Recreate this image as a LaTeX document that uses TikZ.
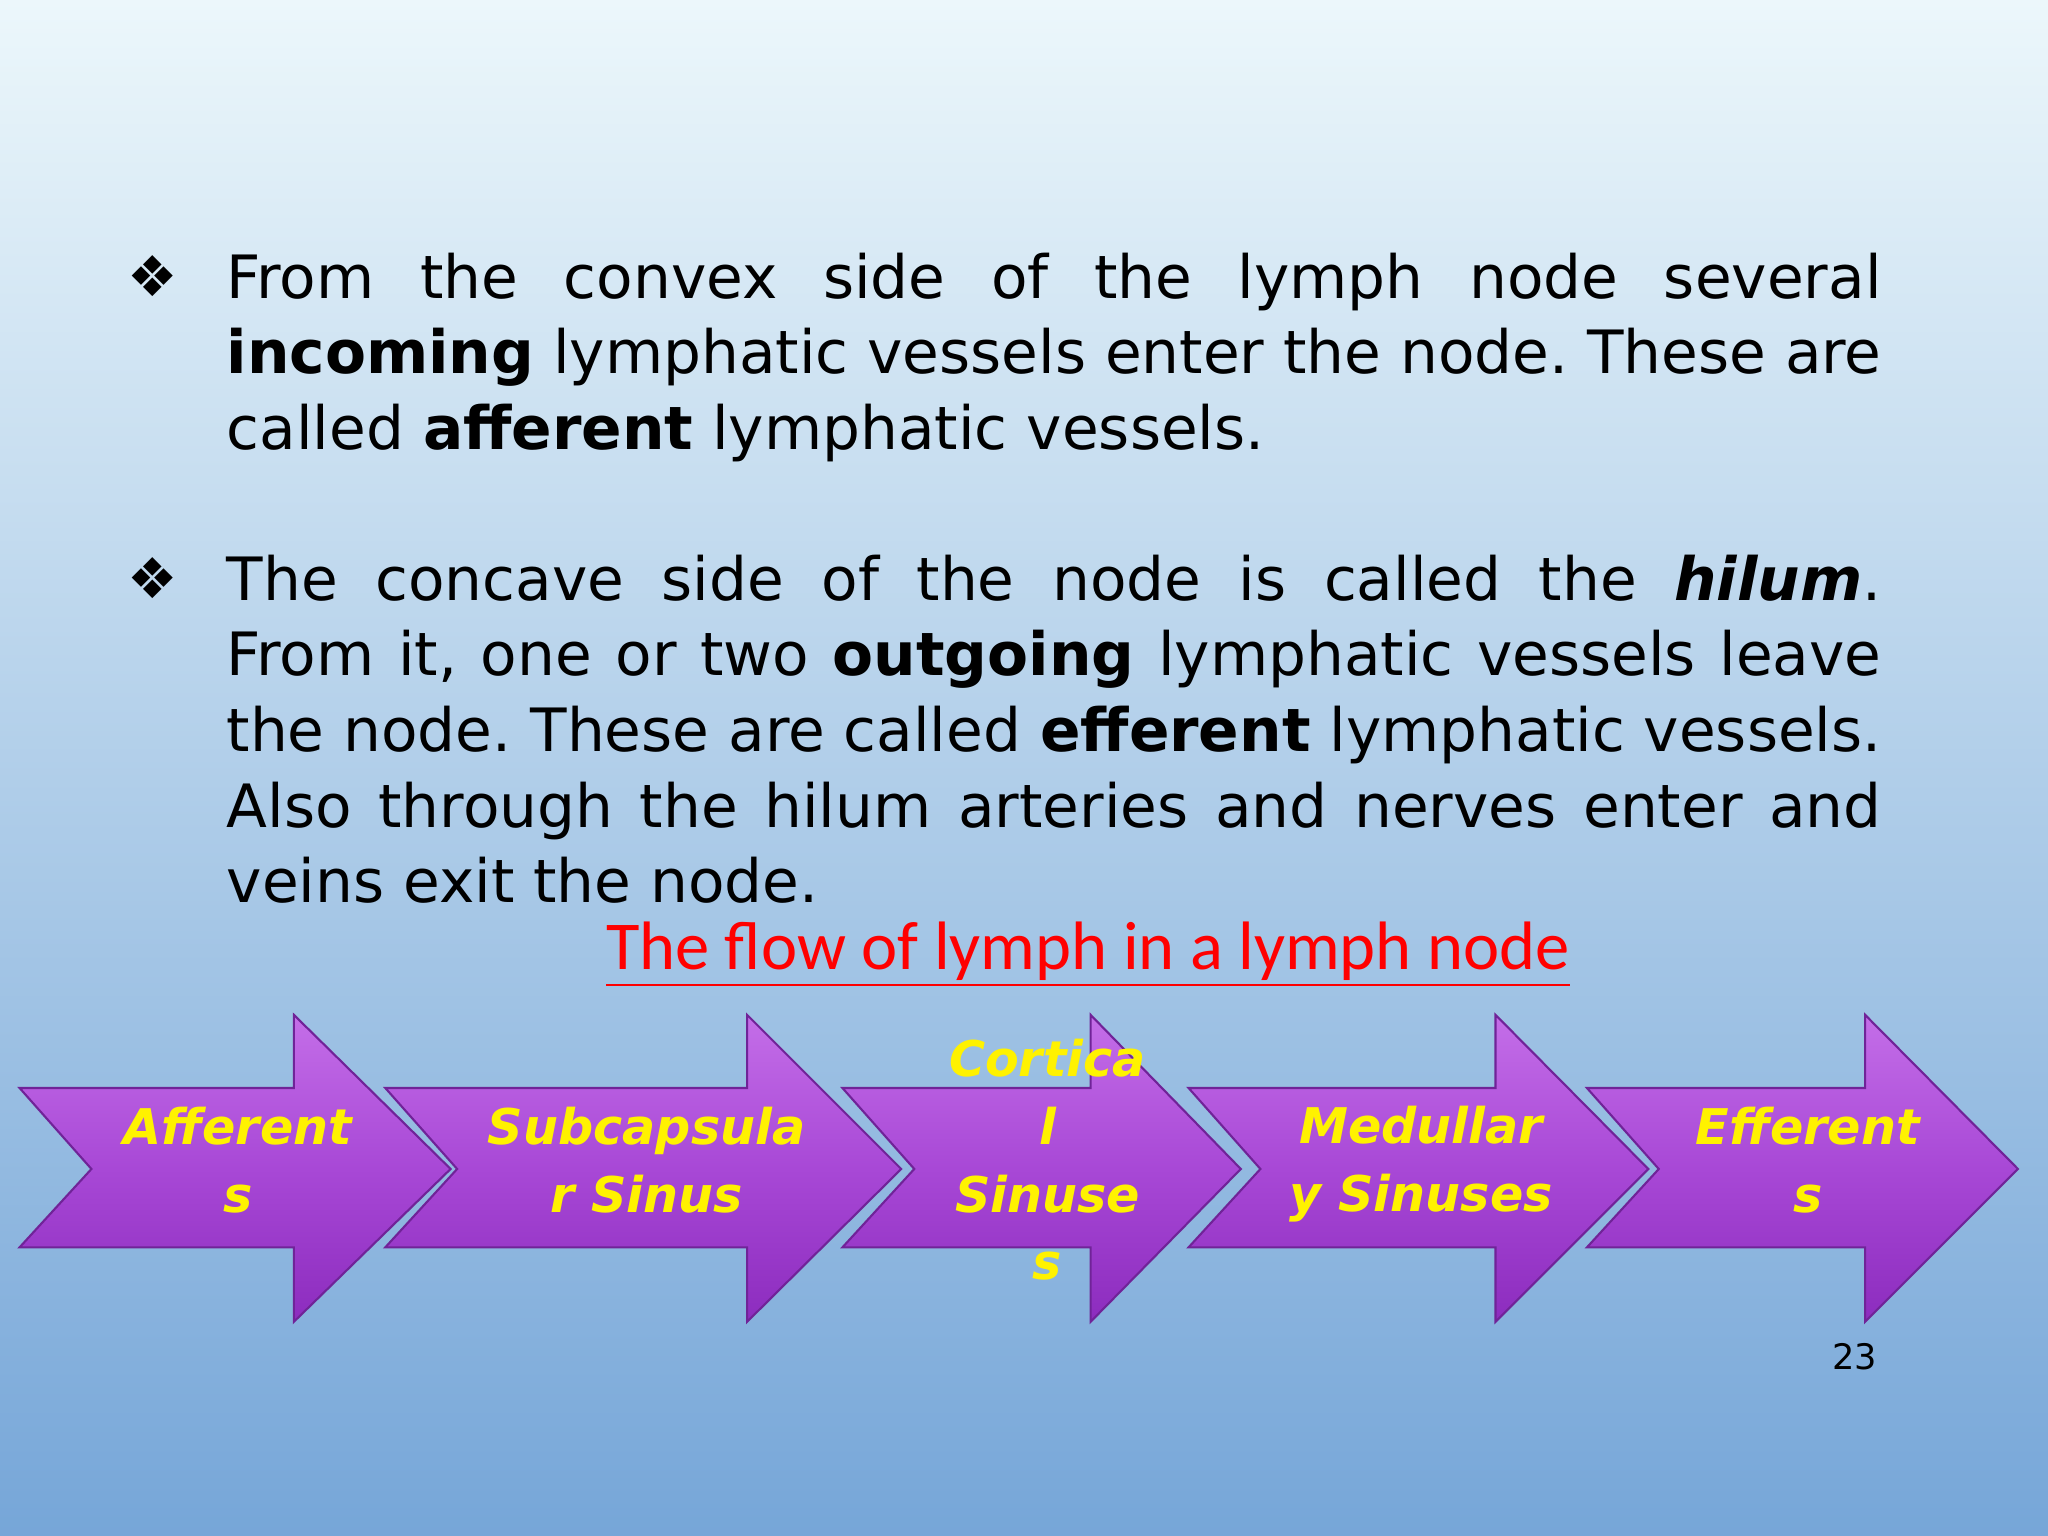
\documentclass[tikz,border=0pt]{standalone}
\usepackage{fontspec}
\setmainfont{DejaVu Sans}
\newfontfamily\arrowfont{DejaVu Sans}
\newfontfamily\titlefont{Carlito}
\newfontfamily\symfont{DejaVu Sans}
\usepackage{ragged2e}
\setlength{\JustifyingParindent}{0pt}
\frenchspacing
\definecolor{arrtop}{RGB}{196,110,232}
\definecolor{arrmid}{RGB}{168,72,214}
\definecolor{arrbot}{RGB}{140,44,190}
\tikzset{
  flowarrow/.style={draw=arrbot!80!black, line width=0.6pt, top color=arrtop, bottom color=arrbot, middle color=arrmid},
  flowlabel/.style={text=yellow, font=\arrowfont\bfseries\itshape\fontsize{14}{19.3}\selectfont, align=center},
}
\newcommand{\myarrow}[4]{% #1 tail x, #2 head x, #3 tip x, #4 name
  \draw[flowarrow] (#1,-833) -- (#2,-833) -- (#2,-777) -- (#3,-895) -- (#2,-1012) -- (#2,-955) -- (#1,-955) -- (#1+55,-895) -- cycle;
  \coordinate (#4) at ({(#1+55+#2)/2},-895);
}
\begin{document}
\begin{tikzpicture}[x=0.01306cm,y=0.01306cm]
\shade[top color={rgb,255:red,236;green,247;blue,251}, bottom color={rgb,255:red,118;green,166;blue,216}] (0,0) rectangle (1568,-1176);
\useasboundingbox (0,0) rectangle (1568,-1176);
\node[anchor=base, font=\symfont\fontsize{16}{20}\selectfont] (b1) at (117,-227) {❖};
\node[anchor=base, font=\symfont\fontsize{16}{20}\selectfont] (b2) at (117,-458) {❖};
\node[anchor=north west, inner sep=0pt, text width=16.55cm, font=\fontsize{17}{21.5}\selectfont] (body) at (173,-193) {\hyphenpenalty=10000\exhyphenpenalty=10000\parindent=0pt\justifying\frenchspacing
From the convex side of the lymph node several\linebreak \textbf{incoming} lymphatic vessels enter the node. These are\linebreak called \textbf{afferent} lymphatic vessels.\par
\vspace{21.5pt}\noindent
The concave side of the node is called the \textbf{\textit{hilum}}.\linebreak From it, one or two \textbf{outgoing} lymphatic vessels leave\linebreak the node. These are called \textbf{efferent} lymphatic vessels.\linebreak Also through the hilum arteries and nerves enter and\linebreak veins exit the node.\par};
\node[anchor=base, text=red, font=\titlefont\fontsize{19.5}{22}\selectfont] (title) at (833,-742) {\underline{The flow of lymph in a lymph node}};
\myarrow{15}{225}{345}{a1}
\myarrow{295}{572}{690}{a2}
\myarrow{645}{835}{950}{a3}
\myarrow{910}{1145}{1262}{a4}
\myarrow{1215}{1428}{1545}{a5}
\node[flowlabel] (t1) at (182,-888) {Afferent\\s};
\node[flowlabel] (t2) at (495,-888) {Subcapsula\\r Sinus};
\node[flowlabel] (t3) at (802,-888) {Cortica\\l\\Sinuse\\s};
\node[flowlabel] (t4) at (1088,-891) {Medullar\\y Sinuses};
\node[flowlabel] (t5) at (1384,-888) {Efferent\\s};
\node[font=\fontsize{10}{12}\selectfont] (pg) at (1420,-1039) {23};
\end{tikzpicture}
\end{document}
